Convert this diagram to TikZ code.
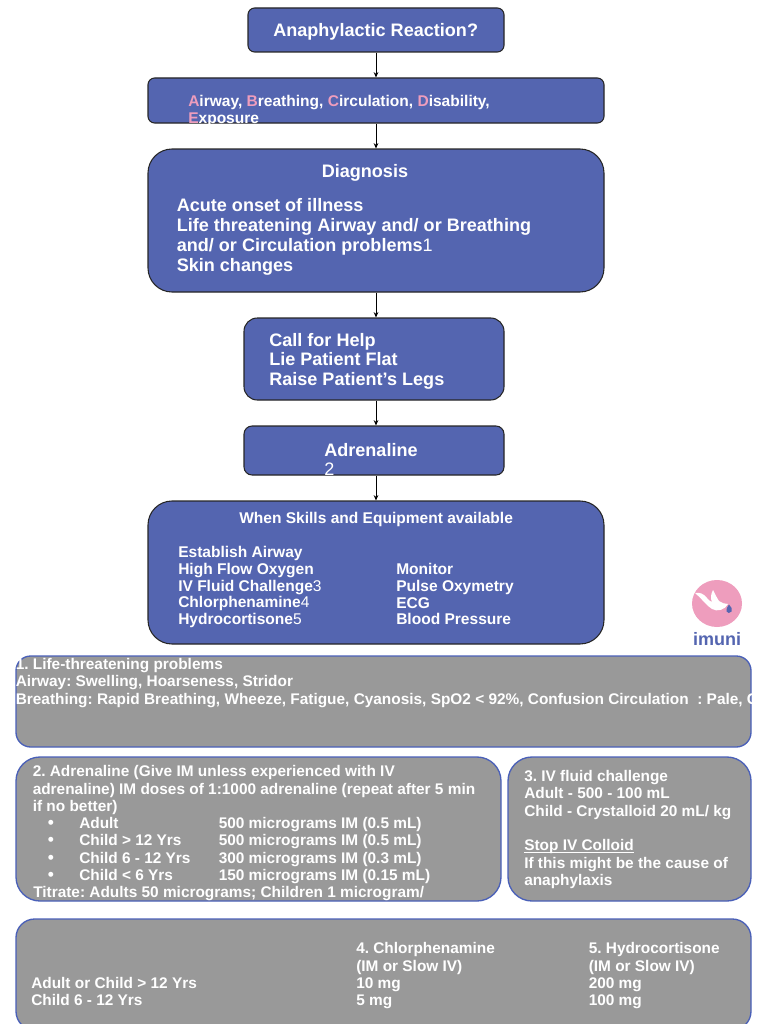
\documentclass[tikz,border=0pt]{standalone}
\usepackage{fontspec}
\setmainfont{Liberation Sans}
\usetikzlibrary{arrows.meta, positioning}
\definecolor{boxblue}{HTML}{5465B0}
\definecolor{boxgrey}{HTML}{999999}
\definecolor{edgeblue}{HTML}{4A60B8}
\definecolor{abcpink}{HTML}{EE9DBD}
\tikzset{
	flowbox/.style = {draw=black!85, line width=0.8pt, fill=boxblue, inner sep=0pt},
	notebox/.style = {draw=edgeblue, line width=1pt, fill=boxgrey, inner sep=0pt},
	fleche/.style = {-{Stealth[length=4pt,width=3.5pt]}, black, line width=0.7pt},
	label/.style = {anchor=north west, inner sep=0pt, align=left, text=white},
	big/.style = {font=\fontsize{13.55}{15}\bfseries\selectfont},
	mid/.style = {font=\fontsize{11.65}{12.6}\bfseries\selectfont},
	notes/.style = {font=\fontsize{11.55}{13}\bfseries\selectfont},
	dot/.style = {text=white, inner sep=0pt, font=\fontsize{13}{13}\bfseries\selectfont}
}
\newcommand{\abc}[1]{\textcolor{abcpink}{#1}}
\newcommand{\reg}[1]{\textmd{#1}}
\frenchspacing

\begin{document}
\begin{tikzpicture}[x=0.75pt,y=-0.75pt]

	\useasboundingbox (0,0) rectangle (768,1024);

	% flow boxes
	\node[flowbox, minimum width=192pt, minimum height=33pt, rounded corners=5pt] (react) at (376,30) {};
	\node[flowbox, minimum width=342pt, minimum height=33.75pt, rounded corners=5pt] (abcde) at (376,100.5) {};
	\node[flowbox, minimum width=342pt, minimum height=107.25pt, rounded corners=18pt] (diag) at (376,220.5) {};
	\node[flowbox, minimum width=195pt, minimum height=61.5pt, rounded corners=10pt] (help) at (374,359) {};
	\node[flowbox, minimum width=195pt, minimum height=36.75pt, rounded corners=6pt] (adren) at (374,450.5) {};
	\node[flowbox, minimum width=342pt, minimum height=107.25pt, rounded corners=18pt] (skills) at (376,572.5) {};

	\draw[fleche] (react) -- (abcde);
	\draw[fleche] (abcde) -- (diag);
	\draw[fleche] (diag.south) -- (diag.south |- help.north);
	\draw[fleche] (diag.south |- help.south) -- (diag.south |- adren.north);
	\draw[fleche] (diag.south |- adren.south) -- (skills.north);

	% flow texts
	\node[label, big] (reacttxt) at (273,23) {Anaphylactic Reaction?};
	\node[label, mid, font=\fontsize{11.65}{13.2}\bfseries\selectfont] (abcdetxt) at (188,94.5) {\abc{A}irway, \abc{B}reathing, \abc{C}irculation, \abc{D}isability,\\\abc{E}xposure};
	\node[label, big] (diagtitle) at (321.5,164) {Diagnosis};
	\node[label, big] (diagtxt) at (176.5,198) {Acute onset of illness\\Life threatening Airway and/ or Breathing\\and/ or Circulation problems\reg{1}\\Skin changes};
	\node[label, big, font=\fontsize{13.55}{14.7}\bfseries\selectfont] (helptxt) at (269,333) {Call for Help\\Lie Patient Flat\\Raise Patient’s Legs};
	\node[label, big, font=\fontsize{13.55}{14.5}\bfseries\selectfont] (adrentxt) at (324,443) {Adrenaline\\\reg{2}};
	\node[label, mid] (skillstitle) at (239,511.5) {When Skills and Equipment available};
	\node[label, mid] (skillsleft) at (178,546) {Establish Airway\\High Flow Oxygen\\IV Fluid Challenge\reg{3}\\Chlorphenamine\reg{4}\\Hydrocortisone\reg{5}};
	\node[label, mid] (skillsright) at (396,563) {Monitor\\Pulse Oxymetry\\ECG\\Blood Pressure};

	% logo
	\fill[abcpink] (717,603.5) ellipse (25 and 23.5);
	\fill[white] (695,593) .. controls (700,592) and (704,594) .. (707,598) .. controls (708,600) and (710,601) .. (712,602) .. controls (710,598) and (711,594) .. (713,590) .. controls (715,594) and (717,598) .. (719,601) .. controls (722,603) and (725,604) .. (728,604) .. controls (725,610) and (717,612) .. (712,609) .. controls (707,606) and (703,600) .. (695,593) -- cycle;
	\fill[boxblue] (729,604.5) .. controls (731,607) and (733,609) .. (731.5,611.5) .. controls (730,613.5) and (727.5,613.5) .. (726.5,611.5) .. controls (725.5,609) and (727.5,607) .. (729,604.5) -- cycle;
	\node[inner sep=0pt, text=boxblue, font=\fontsize{13.5}{14}\bfseries\selectfont] (logotxt) at (717,639) {imuni};

	% note boxes
	\node[notebox, minimum width=551.25pt, minimum height=68.25pt, rounded corners=11pt] (lifebox) at (383.5,701.5) {};
	\node[notebox, minimum width=363.75pt, minimum height=108pt, rounded corners=18pt] (adrenbox) at (258.5,829) {};
	\node[notebox, minimum width=182.25pt, minimum height=108pt, rounded corners=18pt] (fluidbox) at (629.5,829) {};
	\node[notebox, minimum width=551.25pt, minimum height=83.25pt, rounded corners=14pt] (drugbox) at (383.5,974.5) {};

	% note texts
	\begin{scope}
		\clip (16,656) rectangle (751,747);
		\node[label, notes] (lifetxt) at (15.5,658) {1. Life-threatening problems\\Airway: Swelling, Hoarseness, Stridor\\Breathing: Rapid Breathing, Wheeze, Fatigue, Cyanosis, SpO2 < 92\%, Confusion Circulation\ \ : Pale, C};
	\end{scope}
	\node[label, notes] (adrentop) at (32.5,765.5) {2. Adrenaline (Give IM unless experienced with IV\\adrenaline) IM doses of 1:1000 adrenaline (repeat after 5 min\\if no better)};
	\foreach \yy/\who/\dose [count=\i] in {817/Adult/500 micrograms IM (0.5 mL), 834.5/Child > 12 Yrs/500 micrograms IM (0.5 mL), 852.5/Child 6 - 12 Yrs/300 micrograms IM (0.3 mL), 869.5/Child < 6 Yrs/150 micrograms IM (0.15 mL)} {
		\node[dot] (bull\i) at (51,\yy+7) {•};
		\node[label, notes] (who\i) at (79,\yy) {\who};
		\node[label, notes] (dose\i) at (218.5,\yy) {\dose};
	}
	\node[label, notes] (titrate) at (33,886) {Titrate: Adults 50 micrograms; Children 1 microgram/};
	\node[label, notes] (fluidtxt) at (524,770) {3. IV fluid challenge\\Adult - 500 - 100 mL\\Child - Crystalloid 20 mL/ kg\\[13pt]Stop IV Colloid\\If this might be the cause of\\anaphylaxis};
	\draw[white, line width=0.75pt] (524,852.5) -- (634,852.5);
	\node[label, notes] (drugwho) at (31,977) {Adult or Child > 12 Yrs\\Child 6 - 12 Yrs};
	\node[label, notes] (chlor) at (356,942.5) {4. Chlorphenamine\\(IM or Slow IV)\\10 mg\\5 mg};
	\node[label, notes] (hydro) at (588.5,942.5) {5. Hydrocortisone\\(IM or Slow IV)\\200 mg\\100 mg};

\end{tikzpicture}
\end{document}
